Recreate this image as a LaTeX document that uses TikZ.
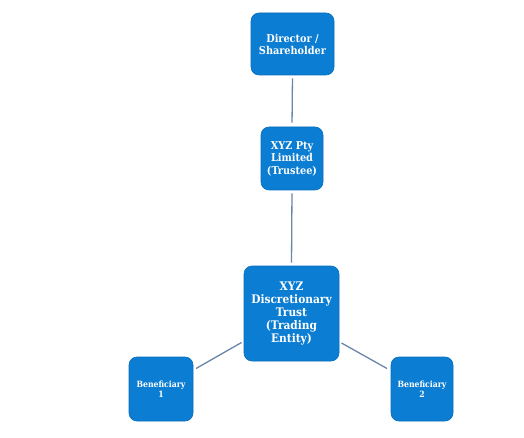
\documentclass[tikz,border=0pt]{standalone}
\usepackage{fontspec}
\newfontfamily\boxfont{DejaVu Serif Condensed}
\definecolor{boxblue}{HTML}{0B7DD2}
\definecolor{boxedge}{HTML}{0A6FBC}
\definecolor{linkgray}{HTML}{6A86A8}
\tikzset{
  ent/.style={draw=boxedge, line width=0.6pt, fill=boxblue, rounded corners=8pt, text=white,
    align=center, inner sep=0pt, font=\boxfont\bfseries},
  link/.style={draw=linkgray, line width=1.3pt}
}
\begin{document}
\begin{tikzpicture}[x=1pt,y=-1pt]
\useasboundingbox (0,0) rectangle (524,438);
\fill[white] (0,0) rectangle (524,438);
\node[ent, minimum width=83pt, minimum height=62pt, font=\boxfont\bfseries\fontsize{10.8}{12}\selectfont] (dir) at (292.5,44) {Director /\\Shareholder};
\node[ent, minimum width=62pt, minimum height=63pt, font=\boxfont\bfseries\fontsize{10.8}{12.5}\selectfont] (tru) at (292,158.5) {XYZ Pty\\Limited\\(Trustee)};
\node[ent, minimum width=95pt, minimum height=95pt, font=\boxfont\bfseries\fontsize{11.8}{13}\selectfont] (trust) at (291.5,313.5) {XYZ\\Discretionary\\Trust\\(Trading\\Entity)};
\node[ent, minimum width=64pt, minimum height=64pt, font=\boxfont\bfseries\fontsize{8.6}{9.8}\selectfont] (b1) at (161,389) {Beneficiary\\1};
\node[ent, minimum width=62pt, minimum height=64pt, font=\boxfont\bfseries\fontsize{8.6}{9.8}\selectfont] (b2) at (422,389) {Beneficiary\\2};
\draw[link, shorten <=3pt, shorten >=4pt] (dir.south) -- (tru.north);
\draw[link, shorten <=3pt, shorten >=3pt] (tru.south) -- (trust.north);
\coordinate (tl) at (241.5,342.5);
\coordinate (bl) at (196,368.5);
\coordinate (tr) at (341.5,343);
\coordinate (br) at (387,368.5);
\draw[link] (tl) -- (bl);
\draw[link] (tr) -- (br);
\end{tikzpicture}
\end{document}
